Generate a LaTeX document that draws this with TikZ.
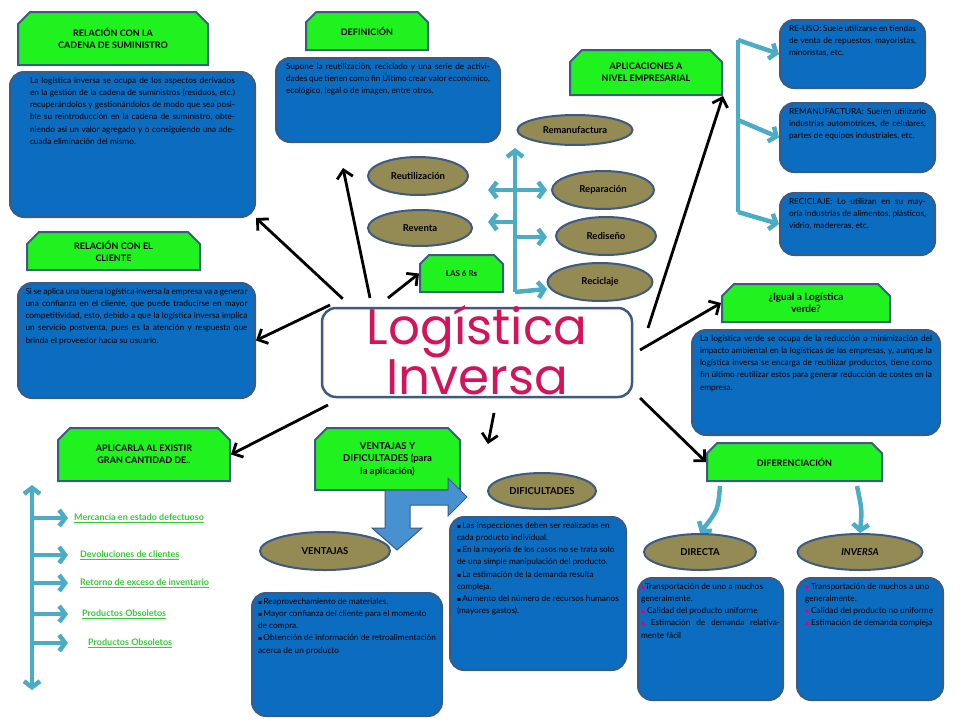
\documentclass[tikz,border=0pt]{standalone}
\usepackage{fontspec}
\setmainfont{Lato}
\newfontfamily\titlefont{Poppins}
\newfontfamily\djv{DejaVu Sans}
\usetikzlibrary{shapes.misc,shapes.geometric,arrows.meta}
\definecolor{gfill}{HTML}{1FF21F}
\definecolor{bfill}{HTML}{0B6CC0}
\definecolor{edge}{HTML}{3C5A82}
\definecolor{olive}{HTML}{948A54}
\definecolor{lblue}{HTML}{4BACC6}
\definecolor{lnk}{HTML}{33CC33}
\definecolor{crim}{HTML}{D4145A}
\definecolor{mag}{HTML}{E0007A}
\tikzset{
 gbox/.style={chamfered rectangle, chamfered rectangle corners={north west,north east}, chamfered rectangle xsep=6pt, chamfered rectangle ysep=6pt, fill=gfill, draw=edge, line width=2pt, align=center, font=\bfseries\fontsize{9}{12}\selectfont, inner sep=0pt},
 bbox/.style={rounded corners=14pt, fill=bfill, draw=edge, line width=2pt},
 btext/.style={anchor=north, align=justify, font=\fontsize{8.3}{12.2}\selectfont, inner sep=0pt},
 ovl/.style={ellipse, fill=olive, draw=edge, line width=2pt, font=\bfseries\fontsize{9.5}{11}\selectfont, inner sep=0pt},
 bk/.style={-{Straight Barb[length=8pt,width=16pt]}, line width=2.8pt},
 lb/.style={lblue, line width=4.5pt, -{Straight Barb[length=6pt,width=16pt]}},
 lbd/.style={lblue, line width=4.5pt, {Straight Barb[length=6pt,width=16pt]}-{Straight Barb[length=6pt,width=16pt]}},
 lnkt/.style={anchor=west, font=\bfseries\fontsize{9}{11}\selectfont, text=lnk, inner sep=0pt},
}
\newcommand{\bul}{{\djv\fontsize{6}{6}\selectfont ▪}\,}
\newcommand{\mbul}{{\color{mag}\djv\fontsize{6}{6}\selectfont ▪}}
\newcommand{\bluebox}[7]{%
 \node[bbox, minimum width=#4pt, minimum height=#5pt] (#1) at (#2,#3) {};
 \node[btext, text width=#6pt] (#1t) at ($(#1.north)+(0,6)$) {#7};}
\usetikzlibrary{calc}
\begin{document}
\begin{tikzpicture}[x=1pt,y=-1pt]
\useasboundingbox (0,0) rectangle (960,720);
% green headings
\node[gbox, minimum width=190pt, minimum height=53pt] (g1) at (113,38.5) {RELACIÓN CON LA\\CADENA DE SUMINISTRO};
\node[gbox, minimum width=122pt, minimum height=38pt] (gdef) at (367,31) {DEFINICIÓN};
\node[gbox, minimum width=152pt, minimum height=45pt] (gapl) at (646,72.5) {APLICACIONES A\\NIVEL EMPRESARIAL};
\node[gbox, minimum width=83pt, minimum height=37pt, font=\bfseries\fontsize{8}{10}\selectfont] (g6) at (461.5,273.5) {LAS 6 Rs};
\node[gbox, minimum width=173pt, minimum height=38pt] (gcli) at (113.5,251) {RELACIÓN CON EL\\CLIENTE};
\node[gbox, minimum width=168pt, minimum height=38pt, font=\bfseries\fontsize{10}{12}\selectfont] (gverde) at (806,303) {¿Igual a Logística\\verde?};
\node[gbox, minimum width=172pt, minimum height=53pt] (gaplic) at (144,454.5) {APLICARLA AL EXISTIR\\GRAN CANTIDAD DE..};
\node[gbox, minimum width=145pt, minimum height=62pt, font=\bfseries\fontsize{9.5}{12.5}\selectfont] (gvd) at (387.5,459) {VENTAJAS Y\\DIFICULTADES (para\\la aplicación)};
\node[gbox, minimum width=175pt, minimum height=38pt] (gdif) at (794.5,462) {DIFERENCIACIÓN};
% blue boxes
\bluebox{b1}{132.5}{144.5}{245}{145}{205}{La logística inversa se ocupa de los aspectos derivados en la gestión de la cadena de suministros (residuos, etc.) recuperándolos y gestionándolos de modo que sea posible su reintroducción en la cadena de suministro, obteniendo así un valor agregado y o consiguiendo una adecuada eliminación del mismo.}
\bluebox{bdef}{388}{100}{224}{84}{204}{Supone la reutilización, reciclado y una serie de actividades que tienen como fin Último crear valor económico, ecológico, legal o de imagen, entre otros.}
\bluebox{bre}{852.5}{54}{145}{68}{127}{RE-USO: \hfill Suele utilizarse en tiendas de venta de repuestos, mayoristas, minoristas, etc.}
\bluebox{brem}{857.5}{137.5}{155}{69}{137}{REMANUFACTURA: Suelen utilizarlo industrias automotrices, de celulares, partes de equipos industriales, etc.}
\bluebox{brec}{857.5}{224}{155}{62}{137}{RECICLAJE: Lo utilizan en su mayoría industrias de alimentos, plásticos, vidrio, madereras, etc.}
\bluebox{bcli}{136.5}{340.5}{237}{115}{222}{Si se aplica una buena logística inversa la empresa va a generar una confianza en el cliente, que puede traducirse en mayor competitividad, esto, debido a que la logística inversa implica un servicio postventa, pues es la atención y respuesta que brinda el proveedor hacia su usuario.}
\bluebox{bverde}{816}{382.5}{248}{105}{232}{La logística verde se ocupa de la reducción o minimización del impacto ambiental en la logísticas de las empresas, y, aunque la logística inversa se encarga de reutilizar productos, tiene como fin último reutilizar estos para generar reducción de costes en la empresa.}
\bluebox{bven}{347}{654.5}{190}{123}{178}{\raggedright\bul Reaprovechamiento de materiales.\\ \bul Mayor confianza del cliente para el momento de compra.\\ \bul Obtención de información de retroalimentación acerca de un producto}
\bluebox{bdif}{538}{593.5}{176}{153}{162}{\raggedright\bul Las inspecciones deben ser realizadas en cada producto individual.\\ \bul En la mayoría de los casos no se trata solo de una simple manipulación del producto.\\ \bul La estimación de la demanda resulta compleja.\\ \bul Aumento del número de recursos humanos (mayores gastos).}
\bluebox{bdir}{710.5}{639}{145}{122}{139}{\raggedright\mbul Transportación de uno a muchos generalmente.\\ \mbul\ Calidad del producto uniforme\\ \mbul\ Estimación de demanda relativamente fácil}
\bluebox{binv}{870}{639}{146}{122}{130}{\raggedright\mbul\ Transportación de muchos a uno generalmente.\\ \mbul\ Calidad del producto no uniforme\\ \mbul\ Estimación de demanda compleja}
% ovals
\node[ovl, minimum width=100pt, minimum height=38pt] (reu) at (418,176) {Reutilización};
\node[ovl, minimum width=104pt, minimum height=36pt] (rev) at (420,228) {Reventa};
\node[ovl, minimum width=115pt, minimum height=30pt] (rem) at (575,130) {Remanufactura};
\node[ovl, minimum width=102pt, minimum height=38pt] (rep) at (603,190) {Reparación};
\node[ovl, minimum width=100pt, minimum height=38pt] (red) at (606,236) {Rediseño};
\node[ovl, minimum width=105pt, minimum height=38pt] (rec) at (600,282) {Reciclaje};
\node[ovl, minimum width=108pt, minimum height=36pt] (dif) at (542,491) {DIFICULTADES};
\node[ovl, minimum width=130pt, minimum height=38pt] (ven) at (325,551) {VENTAJAS};
\node[ovl, minimum width=112pt, minimum height=36pt] (dir) at (700,552) {DIRECTA};
\node[ovl, minimum width=125pt, minimum height=36pt, font=\bfseries\itshape\fontsize{9.5}{11}\selectfont] (inv) at (860,552) {INVERSA};
% center
\node[rounded corners=14pt, draw=edge, fill=white, line width=2.5pt, minimum width=310pt, minimum height=89pt] (c) at (477,352.5) {};
\node[text=crim, font=\titlefont\fontsize{50}{42}\selectfont, align=center, inner sep=0pt] (ct) at (477,350) {Logística\\Inversa};
% 6 Rs light blue structure
\coordinate (sp0) at (515,292);
\coordinate (sp1) at (515,148);
\draw[lb] (sp0) -- (sp1);
\coordinate (h1l) at (488,190); \coordinate (h1r) at (547,190);
\draw[lbd] (h1l) -- (h1r);
\coordinate (h2s) at (515,222); \coordinate (h2l) at (488,222);
\draw[lb] (h2s) -- (h2l);
\coordinate (h3s) at (515,237); \coordinate (h3r) at (547,237);
\draw[lb] (h3s) -- (h3r);
\coordinate (h4r) at (547,289);
\draw[lb] (sp0) -- (h4r);
% bracket to right boxes
\coordinate (bt) at (738,40); \coordinate (bb) at (738,212);
\draw[lblue, line width=4.5pt] (bt) -- (bb);
\draw[lb] (bt) -- (bre.west);
\draw[lb] (738,120) -- (brem.west);
\draw[lb] (bb) -- (brec.west);
% left list
\coordinate (lt) at (32,485); \coordinate (lbm) at (32,690);
\draw[lbd] (lt) -- (lbm);
\foreach \yy/\xx/\tt in {518/74/{Mercancía en  estado defectuoso},555/80/{Devoluciones de clientes},583/80/{Retorno de exceso de inventario},614/82/{Productos Obsoletos},643/88/{Productos Obsoletos}}{
  \draw[lb] (32,\yy) -- (68,\yy);
  \node[lnkt] at (\xx,\yy) {\underline{\tt}};
}
% diferenciación curved arrows
\draw[lb] (gdif.south west) ++(14,4) coordinate (d1) .. controls (718,510) .. (dir.north);
\draw[lb] (gdif.south east) ++(-26,4) coordinate (d2) .. controls (862,510) .. (inv.north);
% bent block arrow
\node[draw=edge, fill=bfill!80!white, line width=1.2pt, inner sep=0pt, minimum size=0pt] (blk) at (420,515) {};
\fill[fill=bfill!75!white, draw=edge, line width=1pt] (385,548-20) -- (385,490) -- (448,490) -- (448,478) -- (467,497) -- (448,516) -- (448,505) -- (410,505) -- (410,528) -- (422,528) -- (397,550) -- (372,528) -- cycle;
% black arrows
\draw[bk] (c.north west)++(22,-8) coordinate (a1) -- (b1.south east);
\draw[bk] (370,298) coordinate (a2) -- (343,168);
\draw[bk] (330,305) coordinate (a3) -- (bcli.east);
\draw[bk] (388,298) coordinate (a4) -- (g6.west);
\draw[bk] (648,328) coordinate (a5) -- (gapl.south east);
\draw[bk] (640,350) coordinate (a6) -- (gverde.west);
\draw[bk] (640,398) coordinate (a7) -- (gdif.west);
\draw[bk] (328,405) coordinate (a8) -- (gaplic.east);
\draw[bk] (494,413) coordinate (a9) -- (488,444);
\end{tikzpicture}
\end{document}
